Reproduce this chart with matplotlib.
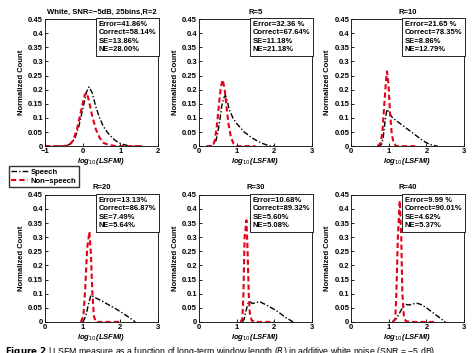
import numpy as np
import matplotlib.pyplot as plt

plt.rcParams['font.family'] = ['Liberation Sans', 'DejaVu Sans']

titles = ['White, SNR=\u22125dB, 25bins,R=2', 'R=5', 'R=10', 'R=20', 'R=30', 'R=40']
stats = [
    ['Error=41.86%', 'Correct=58.14%', 'SE=13.86%', 'NE=28.00%'],
    ['Error=32.36 %', 'Correct=67.64%', 'SE=11.18%', 'NE=21.18%'],
    ['Error=21.65 %', 'Correct=78.35%', 'SE=8.86%', 'NE=12.79%'],
    ['Error=13.13%', 'Correct=86.87%', 'SE=7.49%', 'NE=5.64%'],
    ['Error=10.68%', 'Correct=89.32%', 'SE=5.60%', 'NE=5.08%'],
    ['Error=9.99 %', 'Correct=90.01%', 'SE=4.62%', 'NE=5.37%'],
]
xlims = [(-1, 2), (0, 3), (0, 3), (0, 3), (0, 3), (0, 3)]

# speech curves (black)
sp_x = [
    [-1.0, -0.6, -0.4, -0.3, -0.2, -0.1, 0.0, 0.1, 0.17, 0.25, 0.35, 0.45, 0.55, 0.65, 0.75, 0.85, 0.95, 1.05, 1.2, 1.4, 1.6],
    [0.2, 0.35, 0.45, 0.5, 0.55, 0.6, 0.65, 0.7, 0.75, 0.8, 0.9, 1.0, 1.1, 1.2, 1.3, 1.4, 1.5, 1.6, 1.7, 1.8, 1.9, 2.0],
    [0.7, 0.8, 0.85, 0.9, 0.95, 1.0, 1.1, 1.2, 1.3, 1.4, 1.5, 1.6, 1.7, 1.8, 1.9, 2.0, 2.1, 2.2, 2.3],
    [1.0, 1.05, 1.1, 1.15, 1.22, 1.3, 1.5, 1.7, 1.9, 2.1, 2.3, 2.4],
    [1.15, 1.2, 1.25, 1.3, 1.35, 1.42, 1.5, 1.6, 1.7, 1.9, 2.1, 2.3, 2.5],
    [1.1, 1.2, 1.3, 1.38, 1.45, 1.55, 1.65, 1.75, 1.85, 2.0, 2.2, 2.4, 2.5],
]
sp_y = [
    [0, 0, 0.003, 0.01, 0.03, 0.07, 0.13, 0.19, 0.21, 0.19, 0.14, 0.10, 0.07, 0.05, 0.035, 0.022, 0.013, 0.007, 0.002, 0, 0],
    [0, 0, 0.02, 0.05, 0.09, 0.14, 0.17, 0.18, 0.16, 0.13, 0.10, 0.08, 0.065, 0.05, 0.04, 0.03, 0.022, 0.015, 0.009, 0.004, 0.001, 0],
    [0, 0.005, 0.03, 0.09, 0.13, 0.12, 0.1, 0.09, 0.08, 0.07, 0.06, 0.05, 0.04, 0.03, 0.02, 0.012, 0.006, 0.002, 0],
    [0, 0.01, 0.03, 0.06, 0.095, 0.088, 0.075, 0.06, 0.045, 0.028, 0.01, 0],
    [0, 0.01, 0.04, 0.065, 0.072, 0.065, 0.068, 0.072, 0.066, 0.052, 0.036, 0.016, 0],
    [0, 0.012, 0.035, 0.055, 0.062, 0.06, 0.064, 0.066, 0.062, 0.05, 0.03, 0.01, 0],
]

# non-speech curves (red)
ns_x = [
    [-1.0, -0.5, -0.35, -0.25, -0.15, -0.05, 0.05, 0.1, 0.15, 0.25, 0.35, 0.45, 0.55, 0.7, 0.9, 1.2, 1.6],
    [0.2, 0.35, 0.42, 0.48, 0.53, 0.58, 0.63, 0.68, 0.73, 0.78, 0.85, 0.92, 1.0, 1.2, 1.5],
    [0.7, 0.78, 0.83, 0.88, 0.93, 0.95, 0.99, 1.03, 1.08, 1.13, 1.2, 1.4, 1.7],
    [0.95, 1.02, 1.07, 1.12, 1.18, 1.22, 1.26, 1.3, 1.35, 1.5, 1.8, 2.0],
    [1.1, 1.15, 1.18, 1.21, 1.26, 1.29, 1.32, 1.35, 1.4, 1.5, 1.7, 2.0],
    [1.1, 1.17, 1.2, 1.24, 1.29, 1.33, 1.36, 1.4, 1.45, 1.6, 1.9, 2.2],
]
ns_y = [
    [0, 0, 0.005, 0.02, 0.06, 0.12, 0.18, 0.19, 0.17, 0.11, 0.06, 0.03, 0.012, 0.004, 0, 0, 0],
    [0, 0, 0.02, 0.08, 0.15, 0.21, 0.235, 0.2, 0.14, 0.08, 0.03, 0.008, 0, 0, 0],
    [0, 0.01, 0.05, 0.15, 0.24, 0.265, 0.22, 0.12, 0.04, 0.01, 0, 0, 0],
    [0, 0.02, 0.12, 0.26, 0.32, 0.24, 0.1, 0.02, 0, 0, 0, 0],
    [0, 0.01, 0.1, 0.3, 0.36, 0.25, 0.1, 0.03, 0.005, 0, 0, 0],
    [0, 0.01, 0.1, 0.3, 0.43, 0.3, 0.1, 0.02, 0.003, 0, 0, 0],
]

fig = plt.figure(figsize=(4.74, 3.53), dpi=100)
lefts = [0.095, 0.42, 0.741]
bottoms = [0.586, 0.088]
fs = 5.5

for i in range(6):
    r, c = divmod(i, 3)
    ax = fig.add_axes([lefts[c], bottoms[r], 0.238, 0.36])
    l1, = ax.plot(sp_x[i], sp_y[i], color='black', ls=(0, (4, 1.5, 1, 1.5)), lw=1.0)
    l2, = ax.plot(ns_x[i], ns_y[i], color='#e3001b', ls=(0, (2.5, 1.5)), lw=1.5)
    ax.set_xlim(*xlims[i])
    ax.set_ylim(0, 0.45)
    ax.set_xticks(np.arange(xlims[i][0], xlims[i][1] + 1))
    ax.set_yticks(np.arange(0, 0.451, 0.05))
    ax.set_yticklabels(['0', '0.05', '0.1', '0.15', '0.2', '0.25', '0.3', '0.35', '0.4', '0.45'])
    ax.tick_params(labelsize=fs, length=2, width=0.6, direction='in', pad=1.5)
    for lab in ax.get_xticklabels() + ax.get_yticklabels():
        lab.set_fontweight('bold')
    for s in ax.spines.values():
        s.set_linewidth(0.6)
    ax.set_title(titles[i], fontsize=fs, fontweight='bold', pad=4)
    ax.set_ylabel('Normalized Count', fontsize=fs, fontweight='bold', labelpad=2)
    ax.set_xlabel('log$_{10}$(LSFMI)', fontsize=fs, fontweight='bold', style='italic', labelpad=0.5)
    ax.text(0.985, 0.985, '\n'.join(stats[i]), transform=ax.transAxes, ha='right', va='top',
            multialignment='left', fontsize=fs, fontweight='bold', linespacing=1.3,
            bbox=dict(boxstyle='square,pad=0.35', fc='white', ec='black', lw=0.6))

fig.legend([l1, l2], ['Speech', 'Non\u2212speech'], loc='upper left', bbox_to_anchor=(0.01, 0.54),
           prop={'size': fs, 'weight': 'bold'}, frameon=True, fancybox=False, edgecolor='black',
           handlelength=2.2, borderpad=0.3, labelspacing=0.2, handletextpad=0.4)

caption = (r'$\mathbf{Figure\ 2}$ | LSFM measure as a function of long-term window length ($R$) '
           'in additive white noise (SNR = \u22125 dB)')
fig.text(0.01, 0.024, caption, fontsize=6.3, ha='left', va='top')

fig.savefig('out.png', dpi=100)
